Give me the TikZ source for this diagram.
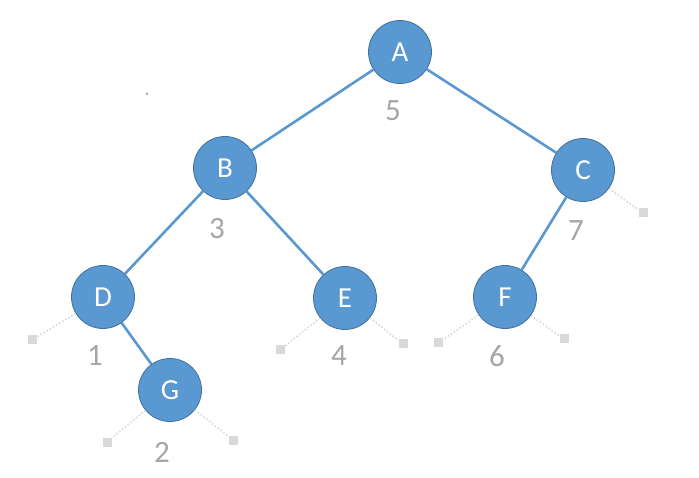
\documentclass[tikz,border=0pt]{standalone}
\usepackage{fontspec}
\setmainfont{Carlito}
\definecolor{nodefill}{HTML}{5A98D2}
\definecolor{nodeborder}{HTML}{41719C}
\definecolor{edgecol}{HTML}{5A98D2}
\definecolor{labelgray}{HTML}{A6A6A6}
\definecolor{leafgray}{HTML}{D9D9D9}
\tikzset{
  tnode/.style={circle, fill=nodefill, draw=nodeborder, line width=0.8pt, minimum size=63pt, inner sep=0pt, text=white, font=\fontsize{29}{29}\selectfont},
  klabel/.style={text=labelgray, font=\fontsize{31}{31}\selectfont, inner sep=0pt},
  leaf/.style={rectangle, fill=leafgray, minimum size=9pt, inner sep=0pt},
  tedge/.style={draw=edgecol, line width=2.6pt},
  nulledge/.style={draw=leafgray, line width=1.6pt, dotted}
}
\begin{document}
\begin{tikzpicture}[x=1pt,y=-1pt]
\useasboundingbox (0,0) rectangle (699,478);
\fill[white] (0,0) rectangle (699,478);
% nodes
\node[tnode] (A) at (400,52) {A};
\node[tnode] (B) at (225,168) {B};
\node[tnode] (C) at (583,170) {C};
\node[tnode] (D) at (103,297) {D};
\node[tnode] (E) at (345,298) {E};
\node[tnode] (F) at (505,297) {F};
\node[tnode] (G) at (170,390) {G};
% key labels
\node[klabel] (k5) at (393,111) {5};
\node[klabel] (k3) at (217,229) {3};
\node[klabel] (k7) at (576,231) {7};
\node[klabel] (k1) at (95,356) {1};
\node[klabel] (k4) at (339,356) {4};
\node[klabel] (k6) at (497,356) {6};
\node[klabel] (k2) at (162,452) {2};
% null leaves
\node[leaf] (dl) at (32,340) {};
\node[leaf] (gl) at (107,442) {};
\node[leaf] (gr) at (233,440) {};
\node[leaf] (el) at (280,350) {};
\node[leaf] (er) at (403,344) {};
\node[leaf] (fl) at (438,343) {};
\node[leaf] (fr) at (564,339) {};
\node[leaf] (cr) at (643,213) {};
% stray dot
\node[circle, fill=black, minimum size=1.5pt, inner sep=0pt] (dot) at (147,94) {};
% null edges
\path[nulledge] (D) -- (dl);
\path[nulledge] (G) -- (gl);
\path[nulledge] (G) -- (gr);
\path[nulledge] (E) -- (el);
\path[nulledge] (E) -- (er);
\path[nulledge] (F) -- (fl);
\path[nulledge] (F) -- (fr);
\path[nulledge] (C) -- (cr);
% tree edges
\path[tedge] (A) -- (B);
\path[tedge] (A) -- (C);
\path[tedge] (B) -- (D);
\path[tedge] (B) -- (E);
\path[tedge] (C) -- (F);
\path[tedge] (D) -- (G);
\end{tikzpicture}
\end{document}
